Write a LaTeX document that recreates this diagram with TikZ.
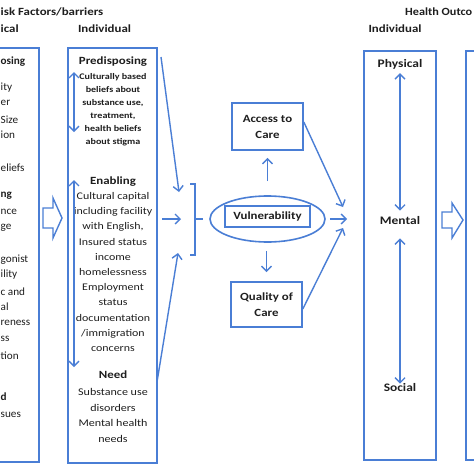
\documentclass[tikz,border=0pt]{standalone}
\usepackage{fontspec}
\setmainfont{Carlito}
\usetikzlibrary{arrows.meta,shapes.geometric}
\definecolor{lb}{RGB}{74,126,213}
\definecolor{tx}{RGB}{30,30,30}
\begin{document}
\begin{tikzpicture}[x=1pt,y=-1pt,
  box/.style={draw=lb,line width=1.6pt,rectangle,inner sep=0pt},
  tip/.tip={Straight Barb[length=5pt,width=10pt]},
  arr/.style={draw=lb,line width=1.4pt,-tip},
  dbl/.style={draw=lb,line width=1.4pt,tip-tip},
  txt/.style={text=tx,inner sep=0pt,xscale=1.17,align=center},
  hd/.style={txt,font=\bfseries\fontsize{11}{12}\selectfont},
  lt/.style={txt,font=\fontsize{11}{12}\selectfont},
  frag/.style={lt,anchor=west,xscale=0.87},
  fragb/.style={hd,anchor=west,xscale=0.87},
  hollow/.style={draw=lb,line width=1.4pt,fill=white,line join=miter}]
\useasboundingbox (0,0) rectangle (474,474);
\fill[white] (0,0) rectangle (474,474);
\clip (0,0) rectangle (474,474);

% headers
\node[hd,anchor=west] (h1) at (0.5,12) {isk Factors/barriers};
\node[hd,anchor=west] (h2) at (0.5,29) {ical};
\node[hd] (h3) at (104.5,29) {Individual};
\node[hd,anchor=west,xscale=0.95] (h4) at (405,12) {Health Outco};
\node[hd] (h5) at (395,29) {Individual};

% boxes
\node[box,minimum width=99pt,minimum height=414pt] (lbox) at (-10.5,255) {};
\node[box,minimum width=89pt,minimum height=415pt] (ind) at (112.5,255.5) {};
\node[box,minimum width=72pt,minimum height=409pt] (out) at (400,255.5) {};
\node[box,minimum width=68pt,minimum height=409pt] (far) at (500,255.5) {};

% left column fragments
\node[fragb] (l1) at (0.5,62) {osing};
\node[frag] (l2) at (0.5,88) {ity};
\node[frag] (l3) at (0.5,103) {er};
\node[frag] (l4) at (0.5,120) {Size};
\node[frag] (l5) at (0.5,135) {ion};
\node[frag] (l6) at (0.5,168) {eliefs};
\node[fragb] (l7) at (0.5,196) {ng};
\node[frag] (l8) at (0.5,212) {nce};
\node[frag] (l9) at (0.5,228) {ge};
\node[frag] (l10) at (0.5,260) {gonist};
\node[frag] (l11) at (0.5,275) {ility};
\node[frag] (l12) at (0.5,292) {c and};
\node[frag] (l13) at (0.5,307) {al};
\node[frag] (l14) at (0.5,323) {reness};
\node[frag] (l15) at (0.5,339) {ss};
\node[frag] (l16) at (0.5,356) {tion};
\node[fragb] (l17) at (0.5,397) {d};
\node[frag] (l18) at (0.5,415) {sues};

% individual column
\node[hd] (pre) at (113,62) {Predisposing};
\node[txt,font=\bfseries\fontsize{8.6}{13}\selectfont] (pret) at (113,109.5)
  {Culturally based\\beliefs about\\substance use,\\treatment,\\health beliefs\\about stigma};
\node[hd] (ena) at (113,182) {Enabling};
\node[txt,font=\fontsize{10.2}{15.2}\selectfont] (enat) at (113,272)
  {Cultural capital\\including facility\\with English,\\Insured status\\income\\homelessness\\Employment\\status\\documentation\\/immigration\\concerns};
\node[hd] (need) at (113,375) {Need};
\node[txt,font=\fontsize{10.3}{15.7}\selectfont] (needt) at (113,415.5)
  {Substance use\\disorders\\Mental health\\needs};

\coordinate (p1) at (74,72);
\coordinate (p2) at (74,132);
\coordinate (e1) at (74,180);
\coordinate (e2) at (74,367);
\draw[dbl] (p1) -- (p2);
\draw[dbl] (e1) -- (e2);

% arrows to bracket
\coordinate (a1s) at (161,57);
\coordinate (a1e) at (179,192);
\coordinate (a2s) at (162,219);
\coordinate (a2e) at (181,219);
\coordinate (a3s) at (157,382);
\coordinate (a3e) at (178,253);
\draw[arr] (a1s) -- (a1e);
\draw[arr] (a2s) -- (a2e);
\draw[arr] (a3s) -- (a3e);

% bracket
\coordinate (bt) at (190,184);
\coordinate (bb) at (190,255);
\coordinate (bm) at (195,219);
\coordinate (bs) at (203,219);
\draw[lb,line width=1.4pt] (bt) -- (195,184) -- (195,255) -- (bb);
\draw[lb,line width=1.4pt] (bm) -- (bs);

% center
\node[draw=lb,line width=1.6pt,ellipse,minimum width=115pt,minimum height=46pt,inner sep=0pt] (ell) at (267.5,219) {};
\node[box,minimum width=85pt,minimum height=21pt] (vul) at (267.5,216.5) {};
\node[hd] (vult) at (vul) {Vulnerability};
\node[box,minimum width=71pt,minimum height=47pt] (acc) at (267.5,126.5) {};
\node[txt,font=\bfseries\fontsize{11}{16}\selectfont] (acct) at (acc) {Access to\\Care};
\node[box,minimum width=71pt,minimum height=45pt] (qua) at (266.5,304.5) {};
\node[txt,font=\bfseries\fontsize{11}{16}\selectfont] (quat) at (qua) {Quality of\\Care};
\draw[arr,shorten <=14pt,shorten >=7pt] (ell.north) -- (acc.south);
\draw[arr,shorten <=8pt,shorten >=9pt] (ell.south -| qua) -- (qua.north);

\coordinate (t1) at (343,207);
\coordinate (t2) at (347,219);
\coordinate (t3) at (343,228);
\draw[arr] (acc.east |- 0,122) -- (t1);
\draw[arr,shorten <=4pt] (ell.east) -- (t2);
\draw[arr] (qua.east |- 0,309) -- (t3);

% outcome column
\node[hd,font=\bfseries\fontsize{11.5}{12}\selectfont] (phy) at (400,64) {Physical};
\node[hd,font=\bfseries\fontsize{11.5}{12}\selectfont] (men) at (400,221) {Mental};
\node[hd,font=\bfseries\fontsize{11.5}{12}\selectfont] (soc) at (400,388) {Social};
\draw[dbl] ([yshift=-4pt]phy.south) -- ([yshift=6pt]men.north);
\draw[dbl] ([yshift=-13pt]men.south) -- ([yshift=0pt]soc.north);

% hollow block arrows
\draw[hollow] (43,208) -- (53,208) -- (53,198) -- (62,218) -- (53,238) -- (53,228) -- (43,228) -- cycle;
\draw[hollow] (442,212) -- (452,212) -- (452,203) -- (463,220) -- (452,238) -- (452,228) -- (442,228) -- cycle;
\end{tikzpicture}
\end{document}
